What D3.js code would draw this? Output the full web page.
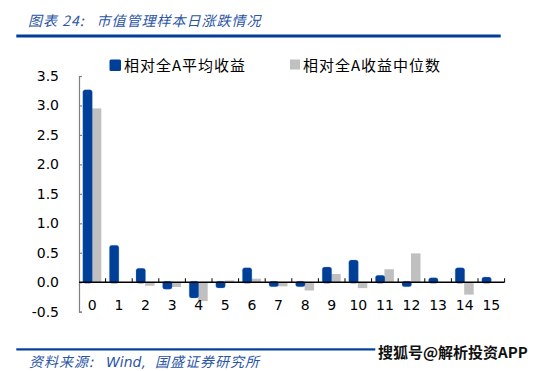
<!DOCTYPE html>
<html><head><meta charset="utf-8">
<script src="https://cdn.jsdelivr.net/npm/d3@7"></script>
<style>html,body{margin:0;padding:0;background:#fff;}svg{display:block;}</style>
</head><body>
<svg id="c" width="545" height="371"></svg>
<script>
const categories = ["0","1","2","3","4","5","6","7","8","9","10","11","12","13","14","15"];
const seriesNames = ["相对全A平均收益","相对全A收益中位数"];
const meanValues   = [3.25, 0.61, 0.22, -0.10, -0.25, -0.08, 0.23, -0.06, -0.06, 0.24, 0.36, 0.10, -0.06, 0.06, 0.23, 0.07];
const medianValues = [2.95, -0.01, -0.06, -0.08, -0.32, 0.03, 0.06, -0.07, -0.14, 0.14, -0.10, 0.22, 0.49, -0.01, -0.21, -0.01];
const yTicks = [-0.5, 0, 0.5, 1.0, 1.5, 2.0, 2.5, 3.0, 3.5];

const blue = "#003f98", gray = "#c0c0c0", titleBlue = "#2b55a6";
const svg = d3.select("#c");

// header
svg.append("text").attr("x", 28).attr("y", 26).attr("font-family", "Noto Sans CJK SC").attr("font-size", 14)
  .attr("font-style", "italic").attr("fill", titleBlue).attr("letter-spacing", 1).text("图表 24:");
svg.append("text").attr("x", 96.5).attr("y", 26).attr("font-family", "Noto Sans CJK SC").attr("font-size", 14)
  .attr("font-style", "italic").attr("fill", titleBlue).attr("letter-spacing", 1).text("市值管理样本日涨跌情况");
svg.append("rect").attr("x", 16.3).attr("y", 34.5).attr("width", 484.4).attr("height", 3).attr("fill", blue);

// scales
const x = d3.scaleBand().domain(categories).range([79, 504.6]).paddingInner(0).paddingOuter(0);
const x1 = d3.scaleBand().domain(["mean","median"]).range([0, x.bandwidth()]).paddingInner(0).paddingOuter(0.4);
const y = d3.scaleLinear().domain([-0.5, 3.5]).range([311.7, 76]);
const y0 = y(0);

// bars: median (gray) first, mean (blue) in front
svg.append("g").selectAll("rect").data(medianValues).join("rect")
  .attr("x", (d, i) => x(categories[i]) + x1("median") - 0.5)
  .attr("width", x1.bandwidth())
  .attr("y", d => Math.min(y(d), y0))
  .attr("height", d => Math.abs(y(d) - y0))
  .attr("fill", gray);
svg.append("g").selectAll("rect").data(meanValues).join("rect")
  .attr("x", (d, i) => x(categories[i]) + x1("mean"))
  .attr("width", x1.bandwidth())
  .attr("y", d => Math.min(y(d), y0) - 1)
  .attr("height", d => Math.abs(y(d) - y0) + 2)
  .attr("rx", 2.5)
  .attr("fill", blue)
  .attr("stroke", "#5b8fd6").attr("stroke-opacity", 0.35).attr("stroke-width", 0.8);

// y axis
const fmt = d => d.toFixed(1);
const yAxis = d3.axisLeft(y).tickValues(yTicks).tickFormat(fmt)
  .tickSizeInner(-3).tickSizeOuter(-3).tickPadding(20);
const gy = svg.append("g").attr("transform", "translate(79,0)").call(yAxis);
gy.select(".domain").attr("stroke", "#808080").attr("stroke-width", 1.2);
gy.selectAll(".tick line").attr("stroke", "#808080").attr("stroke-width", 1.2);
gy.selectAll(".tick text").attr("font-family", "DejaVu Sans").attr("font-size", 14).attr("fill", "#000");

// x axis at zero
const gx = svg.append("g");
gx.append("line").attr("x1", x.range()[0]).attr("x2", x.range()[1]).attr("y1", y0).attr("y2", y0)
  .attr("stroke", "#000").attr("stroke-width", 1.3);
const bounds = categories.map(c => x(c)).concat([x.range()[1]]);
gx.selectAll("line.tk").data(bounds.slice(1)).join("line").attr("class", "tk")
  .attr("x1", d => d).attr("x2", d => d).attr("y1", y0).attr("y2", y0 - 4)
  .attr("stroke", "#000").attr("stroke-width", 1);
gx.selectAll("text").data(categories).join("text")
  .attr("x", d => x(d) + x.bandwidth() / 2).attr("y", 310)
  .attr("text-anchor", "middle").attr("font-family", "DejaVu Sans").attr("font-size", 14).attr("fill", "#000")
  .text(d => d);

// legend
const legend = [
  {name: seriesNames[0], color: blue, sx: 109.5, sy: 59.5, s: 11.5, tx: 124},
  {name: seriesNames[1], color: gray, sx: 290, sy: 59.5, s: 10, tx: 303}
];
const lg = svg.append("g").selectAll("g").data(legend).join("g");
lg.append("rect").attr("x", d => d.sx).attr("y", d => d.sy).attr("width", d => d.s).attr("height", d => d.s)
  .attr("rx", (d, i) => i === 0 ? 1.5 : 0).attr("fill", d => d.color);
lg.append("text").attr("x", d => d.tx).attr("y", 70.5).attr("font-family", "Noto Sans CJK SC")
  .attr("font-size", 15).attr("letter-spacing", 1).attr("fill", "#000").text(d => d.name);

// footer
svg.append("rect").attr("x", 16.3).attr("y", 348.3).attr("width", 359).attr("height", 2.2).attr("fill", blue);
const ft = svg.append("g").attr("font-family", "Noto Sans CJK SC").attr("font-size", 14)
  .attr("font-style", "italic").attr("fill", titleBlue);
ft.append("text").attr("x", 29).attr("y", 367).attr("letter-spacing", 1).text("资料来源:");
ft.append("text").attr("x", 106).attr("y", 367).attr("font-family", "DejaVu Sans").attr("font-size", 14).text("Wind,");
ft.append("text").attr("x", 155).attr("y", 367).attr("letter-spacing", 1).text("国盛证券研究所");

// watermark
svg.append("text").attr("x", 378).attr("y", 357.5).attr("font-family", "Noto Sans CJK SC").attr("font-weight", "bold")
  .attr("font-size", 15).attr("fill", "#111").attr("stroke", "#fff").attr("stroke-width", 2)
  .attr("paint-order", "stroke").text("搜狐号@解析投资APP");
</script>
</body></html>
